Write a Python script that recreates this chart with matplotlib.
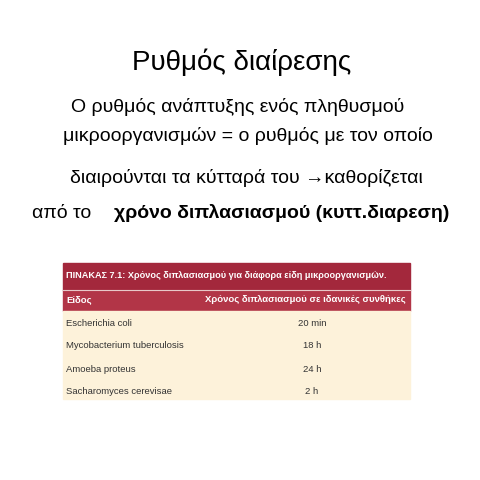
import matplotlib
matplotlib.use("Agg")
import matplotlib.pyplot as plt
from matplotlib.patches import Rectangle

plt.rcParams["font.family"] = ["Liberation Sans", "DejaVu Sans"]

TITLE = "Ρυθμός διαίρεσης"
BODY = [
    ("Ο ρυθμός ανάπτυξης ενός πληθυσμού", 107, 238),
    ("μικροοργανισμών = ο ρυθμός με τον οποίο", 136, 248),
    ("διαιρούνται τα κύτταρά του \u2192καθορίζεται", 178, 246),
]
LAST_PLAIN = "από το"
LAST_BOLD = "χρόνο διπλασιασμού (κυττ.διαρεση)"
TABLE_TITLE = "ΠΙΝΑΚΑΣ 7.1: Χρόνος διπλασιασμού για διάφορα είδη μικροοργανισμών."
HEADERS = ["Είδος", "Χρόνος διπλασιασμού σε ιδανικές συνθήκες"]
SPECIES = ["Escherichia coli", "Mycobacterium tuberculosis",
           "Amoeba proteus", "Sacharomyces cerevisae"]
TIMES = ["20 min", "18 h", "24 h", "2 h"]

fig = plt.figure(figsize=(4.8, 4.8), dpi=100)
ax = fig.add_axes([0, 0, 1, 1])
ax.set_xlim(0, 480)
ax.set_ylim(480, 0)
ax.axis("off")

ax.text(242, 62, TITLE, ha="center", va="center", fontsize=20)
for txt, y, x in BODY:
    ax.text(x, y, txt, ha="center", va="center", fontsize=14)
ax.text(32, 213, LAST_PLAIN, ha="left", va="center", fontsize=14)
ax.text(114, 213, LAST_BOLD, ha="left", va="center", fontsize=14,
        fontweight="bold")

# table
x0, x1 = 63, 410
ax.add_patch(Rectangle((x0, 263), x1 - x0, 27, color="#a3283c"))
ax.add_patch(Rectangle((x0, 290), x1 - x0, 21, color="#b23547"))
ax.add_patch(Rectangle((x0, 311), x1 - x0, 88, color="#fdf2da"))
ax.plot([x0, x1], [290, 290], color="#e8c8c8", lw=0.8)
ax.text(x0 + 3, 276, TABLE_TITLE, ha="left", va="center", fontsize=6.6,
        color="white", fontweight="bold")
ax.text(x0 + 3, 300, HEADERS[0], ha="left", va="center", fontsize=6.8,
        color="white", fontweight="bold")
ax.text(x1 - 4, 300, HEADERS[1], ha="right", va="center", fontsize=6.8,
        color="white", fontweight="bold")
for i, (s, t) in enumerate(zip(SPECIES, TIMES)):
    y = 323 + i * 23
    ax.text(x0 + 3, y, s, ha="left", va="center", fontsize=6.8, color="#333333")
    ax.text(312, y, t, ha="center", va="center", fontsize=6.8, color="#333333")

fig.savefig("out.png", dpi=100)
